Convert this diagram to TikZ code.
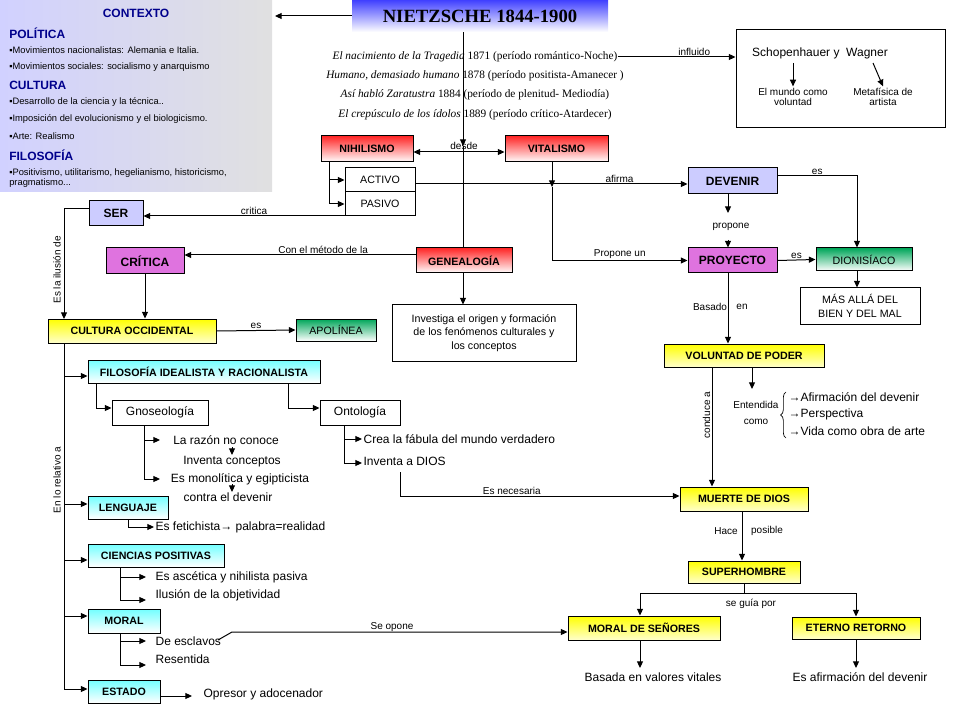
\documentclass[tikz,border=0pt]{standalone}
\usepackage{fontspec}
\setmainfont{Liberation Sans}
\newfontfamily\serifx{Liberation Serif}
\usetikzlibrary{arrows.meta,decorations.pathreplacing}
\begin{document}
\begin{tikzpicture}[x=0.75pt,y=-0.75pt,
 ar/.style={-{Triangle[length=5pt,width=4.5pt]},line width=0.75pt},
 ln/.style={line width=0.75pt},
 box/.style={draw=black,line width=0.75pt,inner sep=0pt,align=center,font=\fontsize{8}{9.6}\selectfont\bfseries},
 pbox/.style={draw=black,line width=0.75pt,inner sep=0pt,align=center,font=\fontsize{8}{10}\selectfont},
 wh/.style 2 args={minimum width=#1*0.75pt,minimum height=#2*0.75pt},
 yel/.style={top color=yellow,bottom color=yellow!20},
 cya/.style={top color=cyan!55,bottom color=white},
 redg/.style={top color=red!85,bottom color=white},
 grn/.style={top color=teal!70!green,bottom color=white},
 mag/.style={fill=violet!45!magenta!55},
 lav/.style={fill=blue!20},
 lbl/.style={font=\fontsize{7.5}{8}\selectfont,inner sep=1pt},
 txt/.style={font=\fontsize{8}{9.6}\selectfont,inner sep=1pt},
 big/.style={font=\fontsize{9}{11}\selectfont,inner sep=1pt}]
\useasboundingbox (0,0) rectangle (960,720);
% context
\node[draw=none,left color=blue!18,right color=black!12,minimum width=272*0.75pt,minimum height=192*0.75pt,inner sep=0pt] (ctx) at (136,96) {};
\node[font=\fontsize{9}{10}\selectfont\bfseries,text=blue!55!black] at (136,13) {CONTEXTO};
\begin{scope}[every node/.style={anchor=west,inner sep=0pt}]
\node[font=\fontsize{9}{10}\selectfont\bfseries,text=blue!55!black] at (9,33) {POLÍTICA};
\node[font=\fontsize{7}{8}\selectfont] at (9,50) {▪Movimientos nacionalistas: Alemania e Italia.};
\node[font=\fontsize{7}{8}\selectfont] at (9,67) {▪Movimientos sociales: socialismo y anarquismo};
\node[font=\fontsize{9}{10}\selectfont\bfseries,text=blue!55!black] at (9,85) {CULTURA};
\node[font=\fontsize{7}{8}\selectfont] at (9,102) {▪Desarrollo de la ciencia y la técnica..};
\node[font=\fontsize{7}{8}\selectfont] at (9,119) {▪Imposición del evolucionismo y el biologicismo.};
\node[font=\fontsize{7}{8}\selectfont] at (9,136) {▪Arte: Realismo};
\node[font=\fontsize{9}{10}\selectfont\bfseries,text=blue!55!black] at (9,155) {FILOSOFÍA};
\node[font=\fontsize{7}{7.5}\selectfont,align=left] at (9,178) {▪Positivismo, utilitarismo, hegelianismo, historicismo,\\pragmatismo...};
\end{scope}
% title
\node[draw=none,top color=blue!75,bottom color=white,wh={256}{32},inner sep=0pt,font=\serifx\fontsize{14}{16}\selectfont\bfseries] (title) at (480,16) {NIETZSCHE 1844-1900};
\draw[ar] (title.west) -- (275,16);
\begin{scope}[every node/.style={font=\serifx\fontsize{8.5}{10}\selectfont,inner sep=0pt}]
\node (w1) at (475,57) {\textit{El nacimiento de la Tragedia} 1871 (período romántico-Noche)};
\node at (475,76) {\textit{Humano, demasiado humano} 1878 (período positista-Amanecer )};
\node at (475,95) {\textit{Así habló Zaratustra} 1884 (período de plenitud- Mediodía)};
\node at (475,115) {\textit{El crepúsculo de los ídolos} 1889 (período crítico-Atardecer)};
\end{scope}
\node[draw,line width=0.75pt,wh={209}{98},inner sep=0pt] (sw) at (840.5,79) {};
\node[txt,font=\fontsize{9}{10}\selectfont] (swt) at (820,53) {Schopenhauer y\ \ Wagner};
\node[lbl,align=center] (mv) at (793,97) {El mundo como\\voluntad};
\node[lbl,align=center] (ma) at (883,97) {Metafísica de\\artista};
\draw[ar] (793,63) -- (mv.north);
\draw[ar] (873,63) -- (ma.north);
\draw[ar] (w1.east) -- (sw.west |- w1.east) node[lbl,pos=0.65,above] {influido};
% nihilismo / vitalismo
\node[box,redg,wh={92}{26}] (nih) at (367,149) {NIHILISMO};
\node[box,redg,wh={103}{26}] (vit) at (556.5,149) {VITALISMO};
\draw[ar] (463,152) -- (nih.east |- 0,152);
\draw[ar] (463,152) -- (vit.west |- 0,152);
\node[lbl] at (464,146) {desde};
\node[pbox,wh={70}{24}] (act) at (380,180) {ACTIVO};
\node[pbox,wh={70}{24}] (pas) at (380,204) {PASIVO};
\draw[ln] (329,162) -- (329,204);
\draw[ar] (329,180) -- (act.west);
\draw[ar] (329,204) -- (pas.west);
% genealogia
\node[box,redg,wh={96}{25}] (gen) at (464,260.5) {GENEALOGÍA};
\draw[ar] (title.south -| 463,0) -- (463,146);
\draw[ln] (463,146) -- (gen.north -| 463,0);
\node[pbox,wh={184}{56}] (inv) at (484,333) {Investiga el origen y formación\\de los fenómenos culturales y\\los conceptos};
\draw[ar] (gen.south -| 463,0) -- (inv.north -| 463,0);
% devenir etc
\node[box,lav,wh={89}{26},font=\fontsize{9}{10}\selectfont\bfseries] (dev) at (732.5,181) {DEVENIR};
\node[box,mag,wh={89}{25},font=\fontsize{9}{10}\selectfont\bfseries] (pro) at (732.5,260.5) {PROYECTO};
\node[pbox,grn,wh={96}{23}] (dio) at (864,259.5) {DIONISÍACO};
\node[pbox,wh={120}{36}] (mas) at (860,306) {MÁS ALLÁ DEL\\BIEN Y DEL MAL};
\draw[ar] (act.east |- 0,184) -- (dev.west |- 0,184) node[lbl,pos=0.75,above] {afirma};
\draw[ar] (552,162) -- (552,187);
\draw[ar] (552,187) |- (pro.west) node[lbl,pos=0.75,above] {Propone un};
\draw[ar] (dev.south -| 728,0) -- (728,213);
\node[lbl] (prop) at (731,227) {propone};
\draw[ar] (728,240) -- (pro.north -| 728,0);
\draw[ar] (dev.east |- 0,176) -| (dio.north -| 857,0) node[lbl,pos=0.25,above] {es};
\draw[ar] (pro.east) -- (dio.west) node[lbl,midway,above] {es};
\draw[ar] (dio.south -| 857,0) -- (mas.north -| 857,0);
\node[box,yel,wh={160}{23}] (vol) at (744,355.5) {VOLUNTAD DE PODER};
\draw[ar] (pro.south -| 728,0) -- (vol.north -| 728,0);
\node[lbl] at (710,307) {Basado};
\node[lbl] at (742,307) {en};
\node[box,yel,wh={128}{24}] (mue) at (744,499) {MUERTE DE DIOS};
\draw[ar] (vol.south -| 712,0) -- (mue.north -| 712,0) node[lbl,pos=0.4,rotate=90,above] {conduce a};
\draw[ar] (vol.south -| 752,0) -- (752,389);
\node[lbl,align=center] at (756,413) {Entendida\\[4pt]como};
\draw[line width=0.5pt,decorate,decoration={brace,amplitude=4pt}] (786,438) -- (786,392);
\begin{scope}[every node/.style={anchor=west,big}]
\node at (787,397) {→Afirmación del devenir};
\node at (787,414) {→Perspectiva};
\node at (787,431) {→Vida como obra de arte};
\end{scope}
\node[box,yel,wh={112}{22}] (sup) at (744,572) {SUPERHOMBRE};
\draw[ar] (mue.south -| 742,0) -- (sup.north -| 742,0);
\node[lbl] at (726,531) {Hace};
\node[lbl] at (767,531) {posible};
\node[box,yel,wh={152}{24}] (mse) at (644,628) {MORAL DE SEÑORES};
\node[box,yel,wh={128}{22}] (ete) at (856,628) {ETERNO RETORNO};
\draw[ln] (sup.south -| 744,0) -- (744,593);
\draw[ar] (744,593) -| (mse.north -| 640,0);
\draw[ar] (744,593) -| (ete.north -| 856,0);
\node[lbl] at (751,604) {se guía por};
\node[big] (bv) at (653,677) {Basada en valores vitales};
\node[big] (ea) at (860,677) {Es afirmación del devenir};
\draw[ar] (mse.south -| 640,0) -- (640,668);
\draw[ar] (ete.south -| 856,0) -- (856,668);
% left
\node[box,lav,wh={54}{25},font=\fontsize{9}{10}\selectfont\bfseries] (ser) at (116,213.5) {SER};
\draw[ar] (pas.west |- 0,216) -- (ser.east |- 0,216) node[lbl,pos=0.45,above] {critica};
\node[box,mag,wh={78}{26},font=\fontsize{9}{10}\selectfont\bfseries] (cri) at (145,261) {CRÍTICA};
\draw[ar] (gen.west |- 0,255) -- (cri.east |- 0,255) node[lbl,pos=0.4,above] {Con el método de la};
\node[box,yel,wh={168}{24}] (cul) at (132,331) {CULTURA OCCIDENTAL};
\draw[ar] (cri.south -| 145,0) -- (cul.north -| 145,0);
\draw[ar] (ser.west |- 0,209) -| (64,319);
\node[lbl,rotate=90] at (57,270) {Es la ilusión de};
\node[pbox,grn,wh={80}{22}] (apo) at (336,330) {APOLÍNEA};
\draw[ar] (cul.east) -- (apo.west) node[lbl,midway,above] {es};
\node[box,cya,wh={232}{23}] (fil) at (204,371.5) {FILOSOFÍA IDEALISTA Y RACIONALISTA};
\node[box,cya,wh={80}{23}] (len) at (128,507.5) {LENGUAJE};
\node[box,cya,wh={136}{23}] (cie) at (156,555.5) {CIENCIAS POSITIVAS};
\node[box,cya,wh={72}{24}] (mor) at (124,621) {MORAL};
\node[box,cya,wh={72}{23}] (est) at (124,691.5) {ESTADO};
\draw[ln] (cul.south -| 64,0) -- (64,689);
\node[lbl,rotate=90] at (57,480) {En lo relativo a};
\draw[ar] (64,376) -- (fil.west |- 0,376);
\draw[ar] (64,504) -- (len.west |- 0,504);
\draw[ar] (64,560) -- (cie.west |- 0,560);
\draw[ar] (64,616) -- (mor.west |- 0,616);
\draw[ar] (64,689) -- (est.west |- 0,689);
\node[pbox,wh={96}{25},font=\fontsize{9}{10}\selectfont] (gno) at (160,412.5) {Gnoseología};
\node[pbox,wh={80}{25},font=\fontsize{9}{10}\selectfont] (ont) at (360,412.5) {Ontología};
\draw[ar] (96,383) |- (gno.west |- 0,408);
\draw[ar] (288,383) |- (ont.west |- 0,408);
\begin{scope}[every node/.style={big}]
\node (g1) at (226,440) {La razón no conoce};
\node (g2) at (232,462) {Inventa conceptos};
\node (g3) at (240,479) {Es monolítica y egipticista};
\node (g4) at (228,497) {contra el devenir};
\end{scope}
\draw[ln] (144,425) -- (144,479);
\draw[ar] (144,440) -- (160,440);
\draw[ar] (144,479) -- (160,479);
\draw[ar] (232,447) -- (232,455);
\draw[ar] (232,484) -- (232,492);
\begin{scope}[every node/.style={big,anchor=west}]
\node (o1) at (362,439) {Crea la fábula del mundo verdadero};
\node (o2) at (362,461) {Inventa a DIOS};
\node at (154,527) {Es fetichista→ palabra=realidad};
\node at (154,577) {Es ascética y nihilista pasiva};
\node at (154,595) {Ilusión de la objetividad};
\node (esc) at (154,641) {De esclavos};
\node at (154,659) {Resentida};
\node at (202,694) {Opresor y adocenador};
\end{scope}
\draw[ln] (344,425) -- (344,463);
\draw[ar] (344,439) -- (362,439);
\draw[ar] (344,463) -- (362,463);
\draw[ar] (400,472) |- (mue.west |- 0,496) node[lbl,pos=0.7,above] {Es necesaria};
\draw[ln] (128,519) -- (128,527);
\draw[ar] (128,527) -- (154,527);
\draw[ln] (120,567) -- (120,600);
\draw[ar] (120,577) -- (146,577);
\draw[ar] (120,600) -- (146,600);
\draw[ln] (120,633) -- (120,665);
\draw[ar] (120,641) -- (146,641);
\draw[ar] (120,665) -- (146,665);
\draw[ar] (est.east |- 0,696) -- (192,696);
\draw[ar] (218,640) -- (232,632) -- (mse.west |- 0,632);
\node[lbl] at (392,627) {Se opone};
\end{tikzpicture}
\end{document}
